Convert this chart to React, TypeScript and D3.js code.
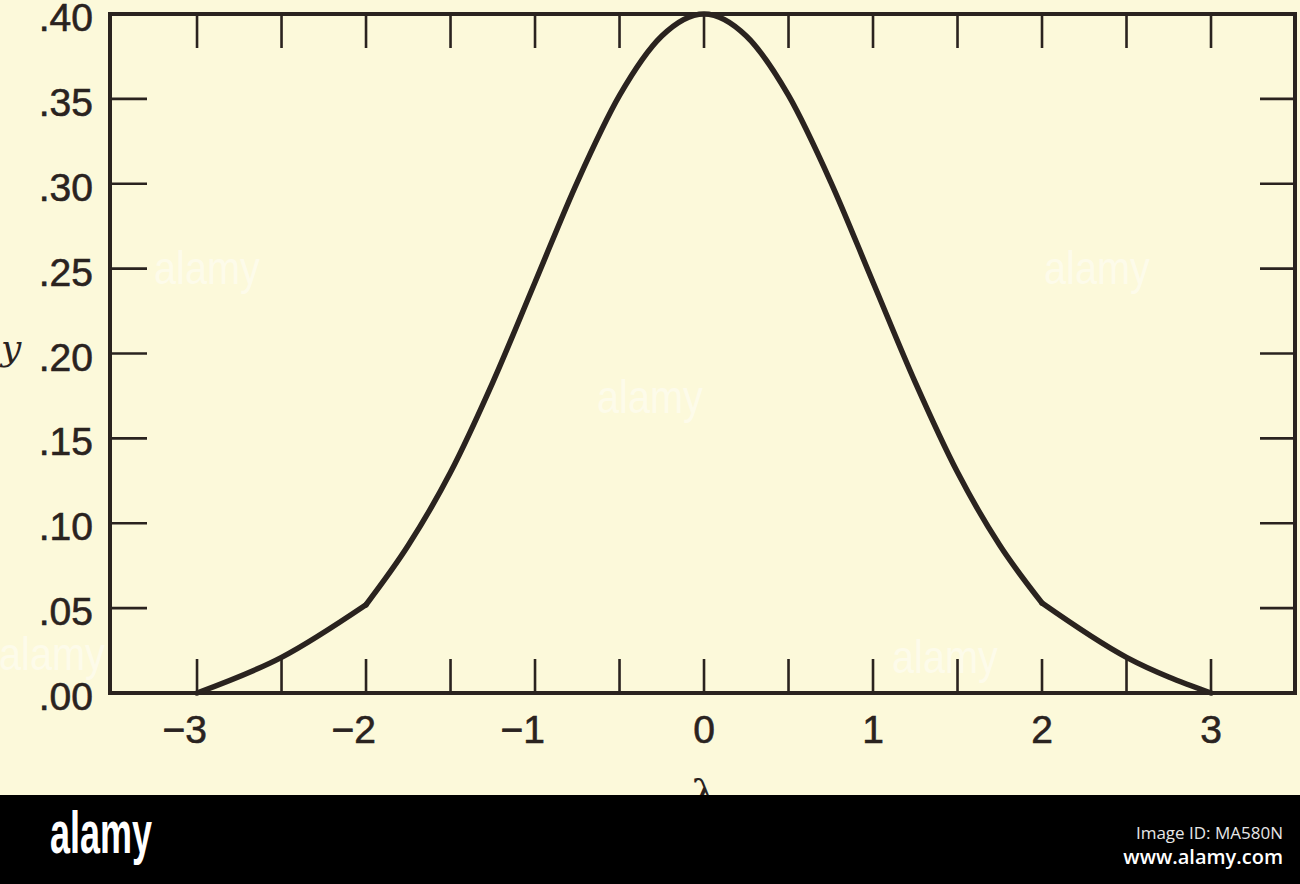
import React, { useEffect, useRef } from "react";
import * as d3 from "d3";

// values
const lambdaValues = [-3, -2.5, -2, -1.75, -1.5, -1.25, -1, -0.75, -0.5, -0.25, 0, 0.25, 0.5, 0.75, 1, 1.25, 1.5, 1.75, 2, 2.5, 3];
const yValues = [0, 0.021, 0.052, 0.087, 0.13, 0.183, 0.242, 0.301, 0.352, 0.387, 0.4, 0.387, 0.352, 0.301, 0.242, 0.183, 0.13, 0.087, 0.053, 0.021, 0];

const xTickValues = [-3, -2.5, -2, -1.5, -1, -0.5, 0, 0.5, 1, 1.5, 2, 2.5, 3];
const xTickLabels = ["−3", "−2", "−1", "0", "1", "2", "3"];
const xLabelValues = [-3, -2, -1, 0, 1, 2, 3];
const yTickValues = [0.05, 0.1, 0.15, 0.2, 0.25, 0.3, 0.35];
const yLabelValues = [0, 0.05, 0.1, 0.15, 0.2, 0.25, 0.3, 0.35, 0.4];
const yTickLabels = [".00", ".05", ".10", ".15", ".20", ".25", ".30", ".35", ".40"];

const watermarks = [
  { x: 207, y: 284 },
  { x: 650, y: 413 },
  { x: 1097, y: 284 },
  { x: 945, y: 673 },
  { x: 52, y: 670 },
];

const App = () => {
  const ref: any = useRef();

  const width = 1300;
  const height = 884;
  const margin = { top: 14, right: 5, bottom: 191, left: 110 };
  const ink = "#2a231f";
  const paper = "#fcf9da";

  useEffect(() => {
    const svg = d3.select(ref.current);
    svg.selectAll("*").remove();

    svg.append("rect").attr("width", width).attr("height", height).attr("fill", paper);

    const xScale = d3
      .scaleLinear()
      .domain([-3.515, 3.497])
      .range([margin.left, width - margin.right]);
    const yScale = d3
      .scaleLinear()
      .domain([0, 0.4])
      .range([height - margin.bottom, margin.top]);

    const x0 = xScale.range()[0];
    const x1 = xScale.range()[1];
    const yTop = yScale(0.4);
    const yBot = yScale(0);

    // faint watermarks
    svg
      .append("g")
      .selectAll("text")
      .data(watermarks)
      .join("text")
      .attr("x", (d) => d.x)
      .attr("y", (d) => d.y)
      .attr("text-anchor", "middle")
      .attr("font-family", "Liberation Sans Narrow, Liberation Sans, sans-serif")
      .attr("font-size", 46)
      .attr("textLength", 106)
      .attr("lengthAdjust", "spacingAndGlyphs")
      .attr("fill", "#ffffff")
      .attr("opacity", 0.45)
      .text("alamy");

    // frame
    svg
      .append("rect")
      .attr("x", x0)
      .attr("y", yTop)
      .attr("width", x1 - x0)
      .attr("height", yBot - yTop)
      .attr("fill", "none")
      .attr("stroke", ink)
      .attr("stroke-width", 4);

    // inward ticks on all four sides
    const ticks = svg.append("g").attr("stroke", ink).attr("stroke-width", 2.6);
    ticks
      .selectAll(".tt")
      .data(xTickValues)
      .join("line")
      .attr("x1", (d) => xScale(d))
      .attr("x2", (d) => xScale(d))
      .attr("y1", yTop)
      .attr("y2", yTop + 34);
    ticks
      .selectAll(".tb")
      .data(xTickValues)
      .join("line")
      .attr("x1", (d) => xScale(d))
      .attr("x2", (d) => xScale(d))
      .attr("y1", yBot)
      .attr("y2", yBot - 34);
    ticks
      .selectAll(".tl")
      .data(yTickValues)
      .join("line")
      .attr("x1", x0)
      .attr("x2", x0 + 37)
      .attr("y1", (d) => yScale(d))
      .attr("y2", (d) => yScale(d));
    ticks
      .selectAll(".tr")
      .data(yTickValues)
      .join("line")
      .attr("x1", x1)
      .attr("x2", x1 - 35)
      .attr("y1", (d) => yScale(d))
      .attr("y2", (d) => yScale(d));

    // tick labels
    const labelFont = "Liberation Sans, Arial, sans-serif";
    svg
      .append("g")
      .selectAll("text")
      .data(yLabelValues)
      .join("text")
      .attr("x", x0 - 17)
      .attr("y", (d) => yScale(d) + 17)
      .attr("text-anchor", "end")
      .attr("font-family", labelFont)
      .attr("font-size", 39)
      .attr("fill", ink)
      .attr("stroke", ink)
      .attr("stroke-width", 0.6)
      .text((d, i) => yTickLabels[i]);

    svg
      .append("g")
      .selectAll("text")
      .data(xLabelValues)
      .join("text")
      .attr("x", (d) => (d < 0 ? xScale(d) + 10 : xScale(d)))
      .attr("y", 743)
      .attr("text-anchor", (d) => (d < 0 ? "end" : "middle"))
      .attr("font-family", labelFont)
      .attr("font-size", 39)
      .attr("fill", ink)
      .attr("stroke", ink)
      .attr("stroke-width", 0.6)
      .text((d, i) => xTickLabels[i]);

    // axis titles
    svg
      .append("text")
      .attr("x", 1)
      .attr("y", 360)
      .attr("font-family", "DejaVu Serif, Liberation Serif, serif")
      .attr("font-style", "italic")
      .attr("font-size", 36)
      .attr("fill", ink)
      .text("y");

    svg
      .append("text")
      .attr("x", xScale(0))
      .attr("y", 808)
      .attr("text-anchor", "middle")
      .attr("font-family", "DejaVu Serif, Liberation Serif, serif")
      .attr("font-size", 40)
      .attr("fill", ink)
      .text("λ");

    // the curve: tails and body drawn as separate pieces (kinks at ±2)
    const points = lambdaValues.map((l, i) => ({ l, v: yValues[i] }));
    const pieces = [
      points.filter((p) => p.l <= -2),
      points.filter((p) => p.l >= -2 && p.l <= 2),
      points.filter((p) => p.l >= 2),
    ];
    const line = d3
      .line<any>()
      .x((d) => xScale(d.l))
      .y((d) => yScale(d.v))
      .curve(d3.curveMonotoneX);

    svg
      .append("g")
      .selectAll("path")
      .data(pieces)
      .join("path")
      .attr("d", (d) => line(d))
      .attr("fill", "none")
      .attr("stroke", ink)
      .attr("stroke-width", 5.5)
      .attr("stroke-linejoin", "round")
      .attr("stroke-linecap", "round");

    // stock-photo footer band
    svg.append("rect").attr("x", 0).attr("y", 795).attr("width", width).attr("height", height - 795).attr("fill", "#000");
    svg
      .append("text")
      .attr("x", 50)
      .attr("y", 853)
      .attr("font-family", "Liberation Sans Narrow, Liberation Sans, sans-serif")
      .attr("font-weight", "bold")
      .attr("font-size", 60)
      .attr("textLength", 102)
      .attr("lengthAdjust", "spacingAndGlyphs")
      .attr("fill", "#fff")
      .text("alamy");
    svg
      .append("text")
      .attr("x", 1283)
      .attr("y", 839)
      .attr("text-anchor", "end")
      .attr("font-family", "Open Sans, sans-serif")
      .attr("font-size", 17)
      .attr("fill", "#e6e6e6")
      .text("Image ID: MA580N");
    svg
      .append("text")
      .attr("x", 1283)
      .attr("y", 864)
      .attr("text-anchor", "end")
      .attr("font-family", "Open Sans, sans-serif")
      .attr("font-weight", 600)
      .attr("font-size", 20)
      .attr("fill", "#fff")
      .text("www.alamy.com");
  }, []);

  return (
    <svg
      ref={ref}
      width={width}
      height={height}
      style={{ position: "absolute", left: 0, top: 0, display: "block" }}
    ></svg>
  );
};

export default App;
